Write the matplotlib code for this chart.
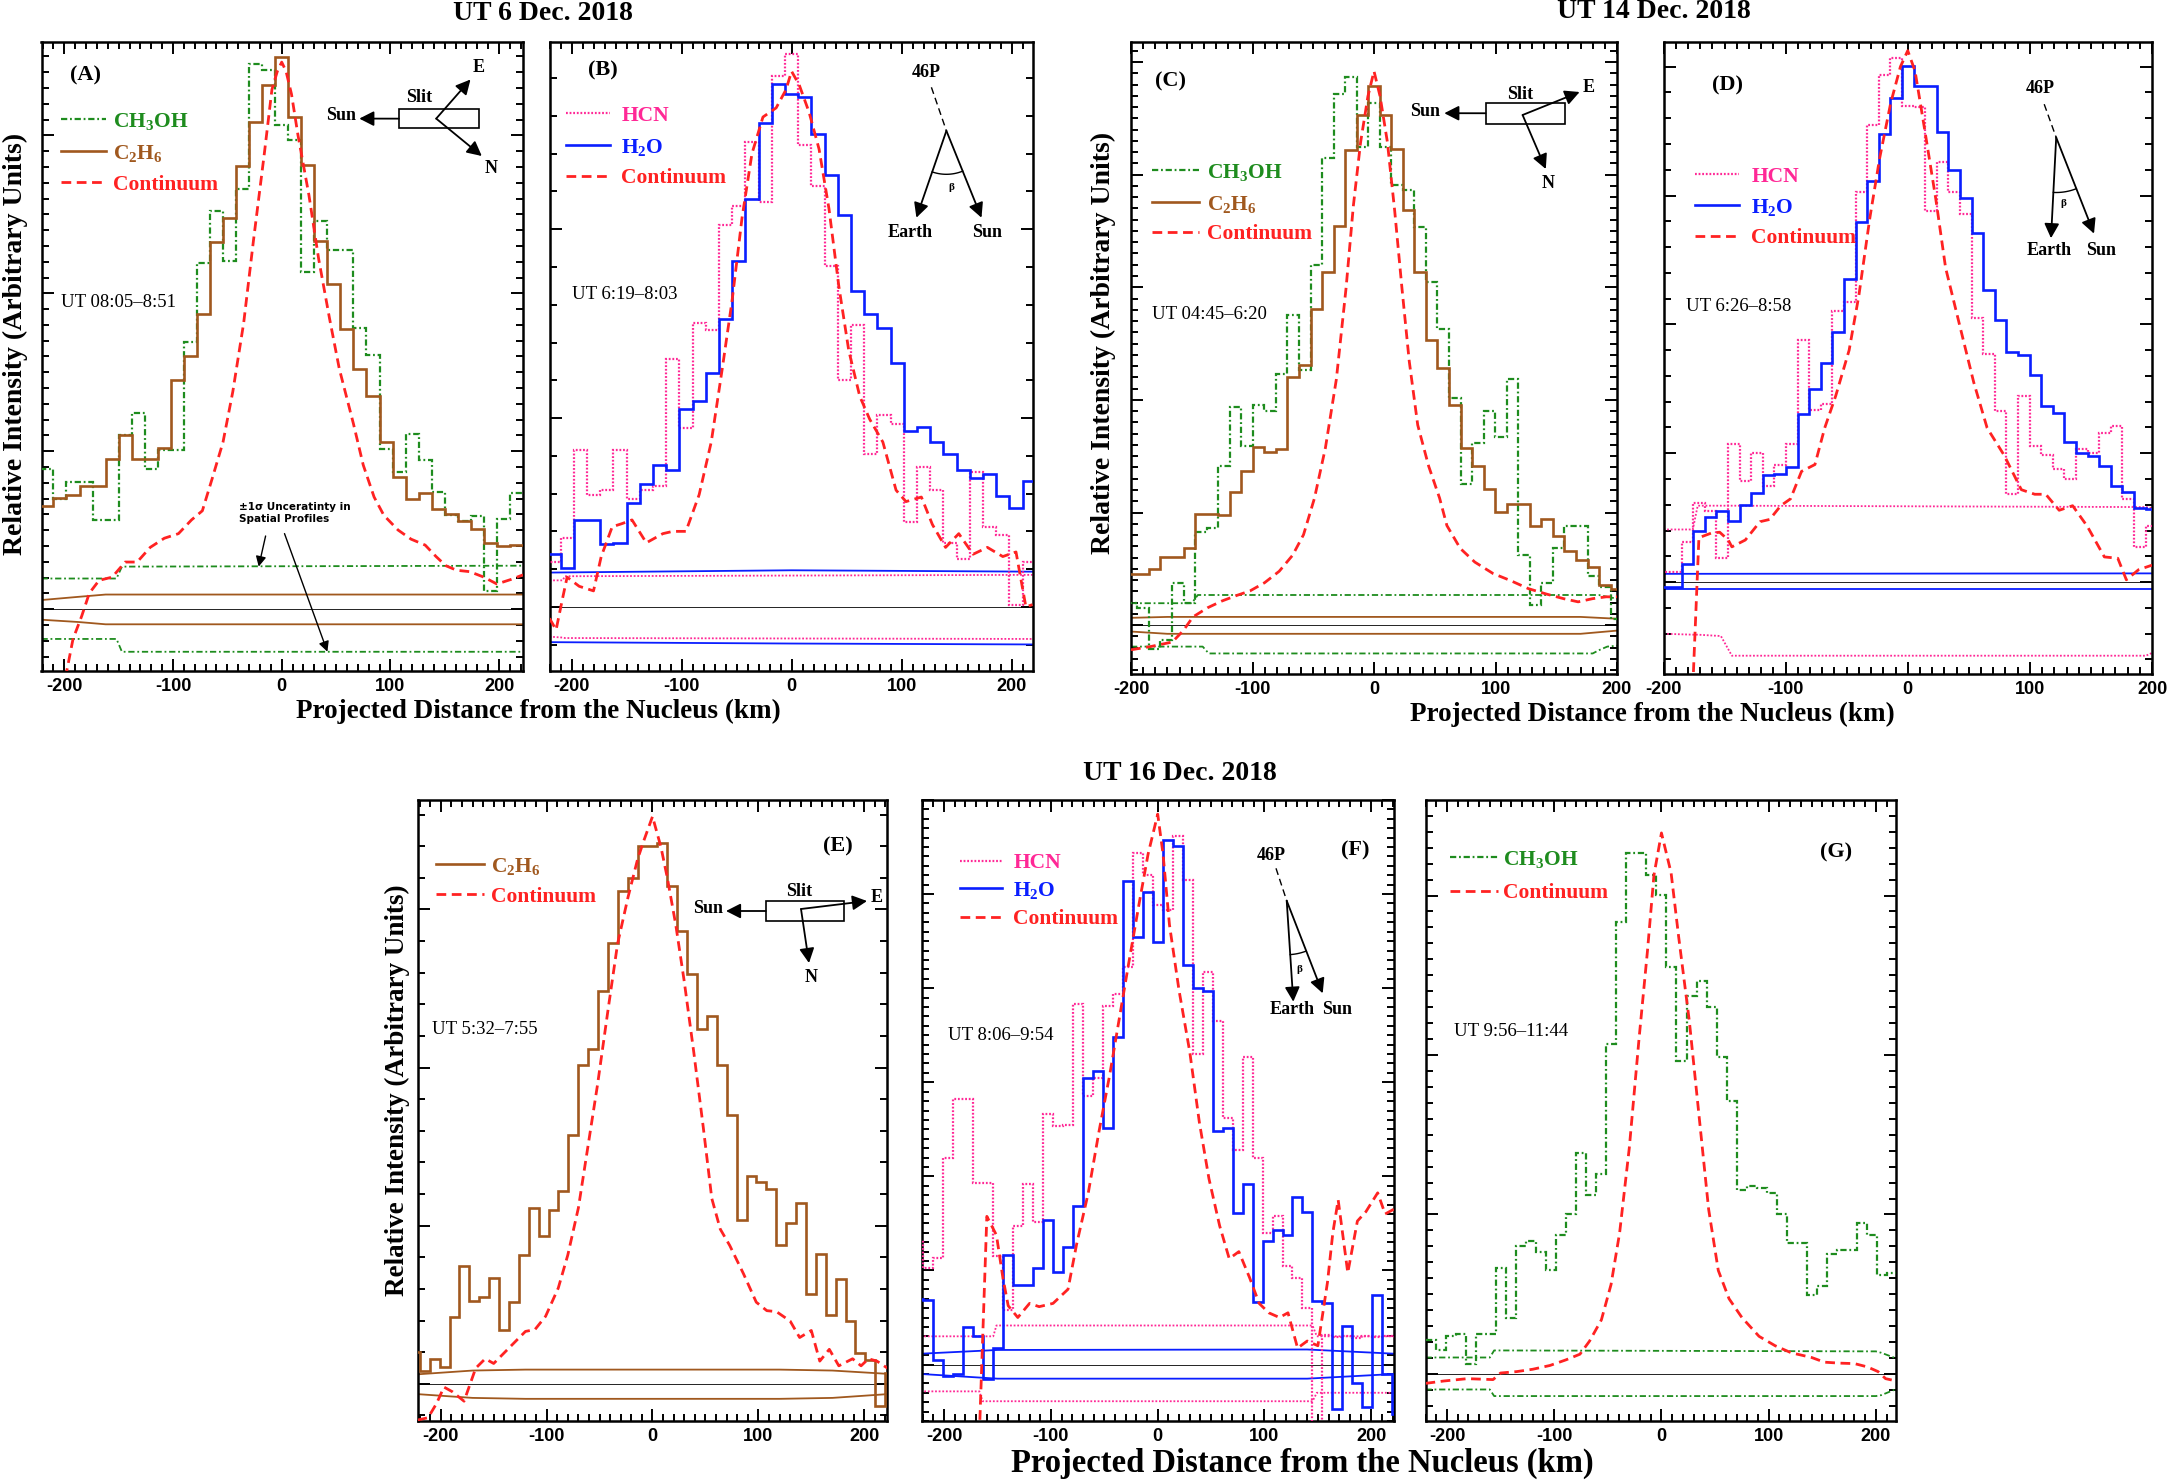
import numpy as np
import matplotlib
matplotlib.use("Agg")
import matplotlib.pyplot as plt
from matplotlib.patches import Rectangle
from matplotlib.ticker import MultipleLocator

plt.rcParams["font.family"] = ["Liberation Serif", "DejaVu Serif"]
plt.rcParams["axes.unicode_minus"] = False
plt.rcParams["mathtext.fontset"] = "custom"
plt.rcParams["mathtext.rm"] = "Liberation Serif:bold"
plt.rcParams["mathtext.bf"] = "Liberation Serif:bold"
plt.rcParams["mathtext.it"] = "Liberation Serif:bold:italic"
plt.rcParams["mathtext.default"] = "rm"
plt.rcParams["lines.scale_dashes"] = False

# ---- data ---------------------------------------------------------------
# spatial bin centres (km) for each night; intensities in arbitrary units
KM_DEC06 = np.arange(-18, 19) * 12.0
KM_DEC14 = np.arange(-21, 22) * 9.5
KM_DEC16 = np.arange(-24, 25) * 9.35
KM_DEC16_G = np.arange(-23, 24) * 9.35

# (A) UT 6 Dec
A_C2H6 = [2.25, 2.42, 2.50, 2.68, 2.68, 3.28, 3.80, 3.28, 3.28, 3.53, 5.00, 5.52, 6.45,
          8.03, 8.55, 9.68, 10.65, 11.45, 12.07, 10.75, 9.70, 8.05, 7.10, 6.13, 5.25,
          4.65, 3.65, 2.88, 2.40, 2.53, 2.18, 2.08, 1.92, 1.75, 1.45, 1.38, 1.40]
A_CH3OH = [3.07, 2.40, 2.77, 2.77, 1.95, 1.95, 3.80, 4.28, 3.07, 3.47, 3.47, 5.83, 7.57,
           8.70, 7.60, 9.17, 11.90, 11.77, 10.57, 10.25, 7.37, 8.48, 7.85, 7.85, 6.15,
           5.55, 3.50, 3.00, 3.83, 3.25, 2.55, 2.05, 1.92, 2.03, 0.40, 1.98, 2.53]
A_CONT_KM = [-199, -192, -184, -177, -168, -156, -144, -133, -121, -108, -95, -83, -73,
             -64, -54, -45, -35, -26, -16, -9, -4, 0, 4, 9, 15, 25, 34, 44, 53, 66, 75,
             85, 94, 107, 119, 132, 142, 151, 161, 173, 186, 198, 211, 222]
A_CONT = [-1.50, -0.65, -0.15, 0.35, 0.63, 0.70, 1.03, 1.03, 1.35, 1.55, 1.65, 1.95, 2.15,
          2.85, 3.65, 4.75, 6.25, 8.05, 9.95, 11.35, 11.75, 11.95, 11.75, 11.25, 10.35,
          9.05, 7.65, 6.35, 5.25, 4.05, 3.15, 2.45, 2.05, 1.73, 1.53, 1.40, 1.15, 0.95,
          0.85, 0.82, 0.70, 0.55, 0.65, 0.75]
A_CH3OH_SIG_KM = [-221, -152, -147, 222]
A_CH3OH_SIG_UP = [0.67, 0.67, 0.93, 0.95]
A_CH3OH_SIG_LO = [-0.65, -0.65, -0.93, -0.93]
A_C2H6_SIG_KM = [-221, -187, -162, 222]
A_C2H6_SIG_UP = [0.20, 0.27, 0.32, 0.32]
A_C2H6_SIG_LO = [-0.23, -0.28, -0.33, -0.33]

# (B) UT 6 Dec
B_H2O = [1.15, 0.85, 1.90, 1.90, 1.37, 1.40, 2.27, 2.68, 3.10, 3.00, 4.32, 4.50, 5.10,
         6.28, 7.55, 8.90, 10.58, 11.42, 11.20, 11.13, 10.32, 9.44, 8.57, 6.90, 6.40,
         6.09, 5.32, 3.84, 3.94, 3.60, 3.35, 3.00, 2.82, 2.90, 2.42, 2.15, 2.75]
B_HCN = [0.98, 1.50, 3.42, 2.45, 2.55, 3.42, 2.35, 2.55, 2.65, 5.42, 3.90, 6.20, 6.05,
         8.35, 8.75, 10.15, 8.85, 11.60, 12.08, 10.10, 9.20, 7.45, 4.95, 6.15, 3.35,
         4.20, 4.00, 1.85, 3.05, 2.55, 1.40, 1.05, 2.95, 1.75, 1.58, 0.05, 0.98]
B_CONT_KM = [-220, -214, -208, -204, -193, -180, -173, -163, -154, -145, -132, -117, -108,
             -96, -84, -73, -63, -54, -45, -36, -26, -14, -5, 0, 7, 16, 25, 34, 43, 52,
             62, 71, 83, 95, 104, 118, 128, 140, 152, 165, 178, 192, 204, 213, 219]
B_CONT = [-0.25, -0.50, 0.20, 0.65, 0.45, 0.35, 1.10, 1.75, 1.82, 1.90, 1.40, 1.60, 1.65,
          1.65, 2.45, 3.60, 5.20, 6.70, 8.50, 9.90, 10.70, 10.90, 11.30, 11.70, 11.40,
          10.80, 10.00, 8.70, 7.00, 5.60, 4.60, 4.10, 3.60, 2.55, 2.30, 2.40, 1.80, 1.30,
          1.60, 1.15, 1.30, 1.10, 1.20, 0.00, 0.05]
B_H2O_SIG_KM = [-220, 0, 219]
B_H2O_SIG_UP = [0.75, 0.80, 0.77]
B_H2O_SIG_LO = [-0.77, -0.80, -0.82]
B_HCN_SIG_KM = [-220, -208, -206, 219]
B_HCN_SIG_UP = [0.58, 0.58, 0.67, 0.70]
B_HCN_SIG_LO = [-0.65, -0.67, -0.68, -0.70]

# (C) UT 14 Dec
C_C2H6 = [1.13, 1.13, 1.23, 1.50, 1.50, 1.68, 2.43, 2.43, 2.41, 2.91, 3.38, 3.90, 3.80,
          3.86, 5.43, 5.70, 6.93, 7.73, 8.75, 10.41, 11.16, 11.80, 11.18, 10.43, 9.08,
          7.73, 6.25, 5.63, 4.83, 3.88, 3.48, 2.98, 2.48, 2.65, 2.65, 2.16, 2.33, 1.95,
          1.63, 1.43, 1.28, 0.88, 0.80]
C_CH3OH = [0.48, 0.38, -0.52, -0.32, 0.93, 0.48, 2.03, 2.13, 3.48, 4.78, 3.93, 4.83, 4.68,
           5.50, 6.80, 5.58, 7.88, 10.23, 11.63, 12.00, 10.48, 11.43, 10.48, 9.63, 9.53,
           8.71, 7.51, 6.48, 4.98, 3.10, 3.98, 4.68, 4.13, 5.40, 1.53, 0.43, 0.93, 1.70,
           2.18, 2.18, 1.08, 0.83, 0.13]
C_CONT_KM = [-200, -184, -166, -157, -149, -137, -125, -113, -102, -90, -78, -67, -58, -49,
             -40, -31, -23, -17, -11, -5, 0, 5, 11, 17, 23, 29, 36, 45, 54, 60, 71, 83, 98,
             112, 127, 142, 156, 168, 180, 191, 200]
C_CONT = [-0.54, -0.47, -0.37, -0.12, 0.18, 0.38, 0.53, 0.65, 0.75, 0.93, 1.18, 1.53, 1.98,
          2.78, 3.88, 5.38, 7.38, 9.18, 10.58, 11.58, 12.13, 11.58, 10.58, 9.08, 7.38,
          5.78, 4.38, 3.48, 2.78, 2.18, 1.68, 1.38, 1.13, 0.98, 0.80, 0.68, 0.58, 0.51,
          0.58, 0.62, 0.62]
C_CH3OH_SIG_KM = [-200, -150, -145, -141, -136, 180, 185, 192, 200]
C_CH3OH_SIG_UP = [0.48, 0.48, 0.66, 0.66, 0.66, 0.66, 0.66, 0.62, 0.58]
C_CH3OH_SIG_LO = [-0.47, -0.47, -0.47, -0.47, -0.62, -0.62, -0.55, -0.47, -0.45]
C_C2H6_SIG_KM = [-200, -170, 170, 200]
C_C2H6_SIG_UP = [0.16, 0.18, 0.18, 0.14]
C_C2H6_SIG_LO = [-0.14, -0.19, -0.19, -0.12]

# (D) UT 14 Dec
D_H2O = [-0.11, -0.11, 0.39, 1.12, 1.42, 1.55, 1.34, 1.69, 1.95, 2.35, 2.37, 2.52, 3.67,
         4.22, 4.79, 5.47, 6.62, 7.87, 8.77, 9.80, 10.59, 11.29, 10.85, 10.85, 9.85, 9.00,
         8.39, 7.64, 6.39, 5.72, 5.04, 4.97, 4.52, 3.84, 3.70, 3.07, 2.82, 2.75, 2.54,
         2.10, 1.97, 1.62, 1.60]
D_HCN = [0.22, 0.22, 0.87, 1.72, 1.55, 0.52, 3.02, 2.22, 2.82, 2.10, 2.55, 3.02, 5.29,
         3.77, 3.89, 5.92, 6.12, 8.54, 10.00, 11.09, 11.47, 10.42, 10.39, 8.12, 9.19, 8.54,
         8.05, 5.77, 4.99, 3.74, 1.92, 4.07, 2.97, 2.77, 2.47, 2.25, 2.92, 2.82, 3.27,
         3.42, 1.82, 0.77, 1.22]
D_CONT_KM = [-176, -173, -171, -161, -154, -147, -144, -133, -121, -113, -104, -96, -87,
             -76, -68, -59, -48, -40, -31, -23, -14, -6, 0, 6, 14, 23, 31, 42, 54, 65, 79,
             93, 104, 113, 124, 135, 147, 161, 172, 179, 189, 200]
D_CONT = [-2.30, -0.33, 0.97, 1.07, 1.09, 0.92, 0.77, 0.92, 1.32, 1.37, 1.67, 1.82, 2.42,
          2.57, 3.37, 4.07, 5.07, 6.27, 7.97, 9.27, 10.47, 11.27, 11.62, 11.17, 9.87,
          8.37, 6.87, 5.67, 4.37, 3.37, 2.77, 2.02, 1.92, 1.92, 1.57, 1.67, 1.22, 0.55,
          0.52, 0.05, 0.27, 0.37]
D_H2O_SIG_KM = [-200, 200]
D_H2O_SIG_UP = [0.18, 0.19]
D_H2O_SIG_LO = [-0.16, -0.16]
D_HCN_SIG_KM = [-200, -176, -172, -153, -144, 195, 200]
D_HCN_SIG_UP = [1.15, 1.15, 1.67, 1.67, 1.67, 1.64, 1.62]
D_HCN_SIG_LO = [-1.13, -1.15, -1.15, -1.18, -1.61, -1.61, -1.55]

# (E) UT 16 Dec
E_C2H6 = [0.68, 0.28, 0.53, 0.35, 1.41, 2.50, 1.75, 1.83, 2.25, 1.13, 1.73, 2.73, 3.73,
          3.13, 3.68, 4.08, 5.28, 6.76, 7.10, 8.33, 9.35, 10.45, 10.73, 11.40, 11.40,
          11.46, 10.56, 9.60, 8.70, 7.53, 7.80, 6.75, 5.71, 3.48, 4.40, 4.28, 4.13, 2.95,
          3.40, 3.83, 1.91, 2.75, 1.46, 2.23, 1.33, 0.66, 0.50, -0.47, 0.23]
E_CONT_KM = [-222, -212, -204, -197, -189, -178, -167, -158, -150, -139, -128, -120, -111,
             -101, -89, -80, -70, -61, -52, -42, -33, -23, -14, -8, 0, 8, 14, 22, 30, 39,
             48, 56, 64, 73, 86, 98, 108, 117, 130, 139, 150, 158, 167, 176, 189, 197,
             204, 212, 222]
E_CONT = [-0.77, -0.72, -0.42, -0.07, -0.17, -0.37, 0.33, 0.53, 0.43, 0.68, 0.93, 1.11,
          1.15, 1.43, 2.03, 2.73, 3.73, 5.03, 6.33, 7.93, 9.33, 10.33, 11.13, 11.53,
          12.03, 11.38, 10.73, 9.73, 8.53, 7.03, 5.43, 3.93, 3.28, 2.93, 2.33, 1.73, 1.55,
          1.53, 1.33, 0.98, 1.13, 0.48, 0.73, 0.38, 0.53, 0.38, 0.53, 0.48, 0.33]
E_C2H6_SIG_KM = [-222, -170, -120, 120, 170, 222]
E_C2H6_SIG_UP = [0.20, 0.28, 0.30, 0.30, 0.28, 0.21]
E_C2H6_SIG_LO = [-0.22, -0.30, -0.32, -0.32, -0.30, -0.22]

# (F) UT 16 Dec
F_H2O = [1.40, 1.37, 0.10, -0.25, -0.20, 0.80, 0.60, -0.30, 0.35, 2.32, 1.70, 1.70, 2.05,
         3.07, 1.97, 2.50, 3.37, 6.10, 6.23, 5.03, 6.97, 10.28, 9.08, 10.05, 8.99, 11.15,
         11.03, 8.50, 8.00, 7.93, 4.97, 5.03, 3.23, 3.83, 1.32, 2.62, 2.87, 2.75, 3.57,
         3.25, 1.35, 1.30, -0.95, 0.82, -0.40, -0.90, 1.47, -0.20, -1.05]
F_HCN = [2.65, 2.05, 2.27, 4.40, 5.65, 5.65, 3.85, 3.85, 2.30, 1.15, 2.95, 3.83, 3.03,
         5.33, 5.07, 5.09, 7.67, 5.70, 6.10, 7.63, 7.88, 8.45, 10.87, 10.40, 9.77, 9.66,
         11.24, 10.30, 6.60, 8.34, 7.31, 5.25, 4.57, 6.53, 4.39, 2.80, 3.15, 2.10, 1.85,
         1.20, -1.60, 0.62, 0.58, 0.60, 0.57, 0.61, 0.59, 0.60, 0.58]
F_CONT_KM = [-167, -160, -151, -145, -140, -131, -120, -111, -98, -84, -76, -65, -55, -45,
             -36, -27, -17, -9, 0, 5, 11, 20, 30, 39, 48, 58, 67, 76, 86, 95, 104, 114, 122,
             131, 140, 150, 159, 164, 169, 178, 187, 195, 206, 213, 221]
F_CONT = [-1.50, 3.15, 2.75, 1.85, 1.25, 1.00, 1.30, 1.23, 1.30, 1.60, 2.55, 3.65, 4.95,
          6.15, 7.35, 8.55, 9.85, 10.85, 11.70, 10.85, 9.35, 7.95, 6.65, 5.15, 3.95, 2.95,
          2.25, 2.40, 1.85, 1.30, 1.10, 1.00, 1.10, 0.35, 0.50, 0.40, 1.75, 2.80, 3.50,
          1.95, 3.05, 3.25, 3.65, 3.20, 3.30]
F_H2O_SIG_KM = [-222, -150, 140, 222]
F_H2O_SIG_UP = [0.23, 0.31, 0.32, 0.23]
F_H2O_SIG_LO = [-0.20, -0.30, -0.30, -0.20]
F_HCN_SIG_KM = [-222, -167, -164, -154, -151, 145, 149, 222]
F_HCN_SIG_UP = [0.60, 0.60, 0.60, 0.60, 0.83, 0.83, 0.60, 0.60]
F_HCN_SIG_LO = [-0.57, -0.57, -0.78, -0.78, -0.78, -0.78, -0.60, -0.60]

# (G) UT 16 Dec
G_CH3OH = [0.72, 0.50, 0.80, 0.85, 0.22, 0.85, 0.85, 2.25, 1.20, 2.73, 2.83, 2.60, 2.20,
           2.95, 3.40, 4.70, 3.80, 4.25, 7.02, 9.60, 11.08, 11.08, 10.60, 10.18, 8.65,
           6.65, 8.03, 8.35, 7.80, 6.73, 5.80, 3.90, 4.00, 3.95, 3.85, 3.40, 2.78, 2.78,
           1.68, 1.88, 2.55, 2.63, 2.63, 3.20, 2.95, 2.10, 2.15]
G_CONT_KM = [-220, -203, -181, -157, -150, -135, -120, -104, -89, -76, -67, -56, -47, -39,
             -30, -21, -13, -7, 0, 9, 16, 26, 35, 44, 53, 63, 75, 91, 106, 121, 140, 152,
             166, 180, 192, 202, 209, 219]
G_CONT = [-0.20, -0.15, -0.10, -0.12, 0.02, 0.05, 0.10, 0.18, 0.30, 0.42, 0.70, 1.15, 1.90,
          3.00, 4.80, 7.10, 9.00, 10.60, 11.50, 10.65, 9.30, 7.50, 5.50, 3.50, 2.20, 1.60,
          1.20, 0.80, 0.60, 0.45, 0.35, 0.25, 0.23, 0.22, 0.15, 0.05, -0.10, -0.15]
G_CH3OH_SIG_KM = [-220, -160, -156, 200, 205, 219]
G_CH3OH_SIG_UP = [0.35, 0.35, 0.50, 0.48, 0.45, 0.33]
G_CH3OH_SIG_LO = [-0.33, -0.33, -0.47, -0.47, -0.45, -0.32]

# ---- styles -------------------------------------------------------------
GREEN, BROWN, RED, PINK, BLUE = "#1e8c1e", "#a0581e", "#ff2222", "#ff2896", "#0a1eff"
STYLE = {
    "ch3oh": dict(color=GREEN, lw=1.6, ls=(0, (4.5, 2.0, 1.3, 2.0))),
    "c2h6": dict(color=BROWN, lw=1.9, ls="-"),
    "hcn": dict(color=PINK, lw=1.6, ls=(0, (1.3, 1.3))),
    "h2o": dict(color=BLUE, lw=1.9, ls="-"),
    "cont": dict(color=RED, lw=2.0, ls=(0, (7, 4))),
}
LABEL = {"ch3oh": "CH$_3$OH", "c2h6": "C$_2$H$_6$", "hcn": "HCN",
         "h2o": "H$_2$O", "cont": "Continuum"}

W, H = 2170, 1484
fig = plt.figure(figsize=(W / 100, H / 100), dpi=100)


def make_axes(box, xlim, ylim, ymajor, nminor):
    left, top, right, bottom = box
    ax = fig.add_axes([left / W, 1 - bottom / H, (right - left) / W, (bottom - top) / H])
    ax.set_xlim(*xlim)
    ax.set_ylim(*ylim)
    ax.set_xticks([-200, -100, 0, 100, 200], labels=["-200", "-100", "0", "100", "200"],
                  fontsize=13, fontweight="bold", fontfamily="Liberation Sans")
    ax.xaxis.set_minor_locator(MultipleLocator(10))
    ax.yaxis.set_major_locator(MultipleLocator(ymajor))
    ax.yaxis.set_minor_locator(MultipleLocator(ymajor / nminor))
    ax.tick_params(which="both", direction="in", top=True, right=True, width=1.4,
                   labelleft=False)
    ax.tick_params(which="major", length=8.5)
    ax.tick_params(which="minor", length=5)
    ax.tick_params(axis="x", pad=5)
    for s in ax.spines.values():
        s.set_linewidth(1.8)
    ax.axhline(0, color="k", lw=0.6, zorder=1)
    return ax


def hist(ax, centres, values, key, width):
    c = np.asarray(centres, dtype=float)
    edges = np.append(c - width / 2, c[-1] + width / 2)
    ax.stairs(values, edges, baseline=None, zorder=3, **STYLE[key])


def sigma(ax, km, up, lo, key):
    st = dict(STYLE[key])
    st["lw"] = 1.3
    ax.plot(km, up, zorder=2, **st)
    ax.plot(km, lo, zorder=2, **st)


def continuum(ax, km, vals):
    ax.plot(km, vals, zorder=4, **STYLE["cont"])


# (A)
ax = make_axes((41.5, 41.5, 523, 671), (-221, 222), (-1.35, 12.4), 3.45, 10)
sigma(ax, A_CH3OH_SIG_KM, A_CH3OH_SIG_UP, A_CH3OH_SIG_LO, "ch3oh")
sigma(ax, A_C2H6_SIG_KM, A_C2H6_SIG_UP, A_C2H6_SIG_LO, "c2h6")
hist(ax, KM_DEC06, A_CH3OH, "ch3oh", 12.0)
hist(ax, KM_DEC06, A_C2H6, "c2h6", 12.0)
continuum(ax, A_CONT_KM, A_CONT)

# (B)
ax = make_axes((549.5, 41.5, 1032.5, 671), (-220, 219), (-1.40, 12.35), 4.125, 5)
sigma(ax, B_HCN_SIG_KM, B_HCN_SIG_UP, B_HCN_SIG_LO, "hcn")
sigma(ax, B_H2O_SIG_KM, B_H2O_SIG_UP, B_H2O_SIG_LO, "h2o")
hist(ax, KM_DEC06, B_HCN, "hcn", 12.0)
hist(ax, KM_DEC06, B_H2O, "h2o", 12.0)
continuum(ax, B_CONT_KM, B_CONT)

# (C)
ax = make_axes((1131, 41.5, 1617, 674), (-200, 200), (-1.07, 12.78), 2.466, 10)
sigma(ax, C_CH3OH_SIG_KM, C_CH3OH_SIG_UP, C_CH3OH_SIG_LO, "ch3oh")
sigma(ax, C_C2H6_SIG_KM, C_C2H6_SIG_UP, C_C2H6_SIG_LO, "c2h6")
hist(ax, KM_DEC14, C_CH3OH, "ch3oh", 9.5)
hist(ax, KM_DEC14, C_C2H6, "c2h6", 9.5)
continuum(ax, C_CONT_KM, C_CONT)

# (D)
ax = make_axes((1663.5, 41.5, 2152, 674), (-200, 200), (-2.01, 11.82), 2.8175, 5)
sigma(ax, D_HCN_SIG_KM, D_HCN_SIG_UP, D_HCN_SIG_LO, "hcn")
sigma(ax, D_H2O_SIG_KM, D_H2O_SIG_UP, D_H2O_SIG_LO, "h2o")
hist(ax, KM_DEC14, D_HCN, "hcn", 9.5)
hist(ax, KM_DEC14, D_H2O, "h2o", 9.5)
continuum(ax, D_CONT_KM, D_CONT)

# (E)
ax = make_axes((418, 800, 887, 1421), (-221.5, 221.5), (-0.79, 12.38), 3.353, 5)
sigma(ax, E_C2H6_SIG_KM, E_C2H6_SIG_UP, E_C2H6_SIG_LO, "c2h6")
hist(ax, KM_DEC16, E_C2H6, "c2h6", 9.35)
continuum(ax, E_CONT_KM, E_CONT)

# (F)
ax = make_axes((921.7, 800, 1393.7, 1421), (-221, 221), (-1.20, 12.0), 2.0, 10)
sigma(ax, F_HCN_SIG_KM, F_HCN_SIG_UP, F_HCN_SIG_LO, "hcn")
sigma(ax, F_H2O_SIG_KM, F_H2O_SIG_UP, F_H2O_SIG_LO, "h2o")
hist(ax, KM_DEC16, F_HCN, "hcn", 9.35)
hist(ax, KM_DEC16, F_H2O, "h2o", 9.35)
continuum(ax, F_CONT_KM, F_CONT)

# (G)
ax = make_axes((1425.5, 800, 1896, 1421), (-220, 218.7), (-1.00, 12.2), 3.39, 10)
sigma(ax, G_CH3OH_SIG_KM, G_CH3OH_SIG_UP, G_CH3OH_SIG_LO, "ch3oh")
hist(ax, KM_DEC16_G, G_CH3OH, "ch3oh", 9.35)
continuum(ax, G_CONT_KM, G_CONT)

# ---- annotation layer in figure pixels ----------------------------------
ov = fig.add_axes([0, 0, 1, 1], zorder=10)
ov.set_xlim(0, W)
ov.set_ylim(H, 0)
ov.axis("off")
ov.patch.set_alpha(0)


def arrow(start, end, scale=16, lw=1.3):
    ov.annotate("", xy=end, xytext=start,
                arrowprops=dict(arrowstyle="-|>,head_length=0.55,head_width=0.28",
                                color="k", lw=lw, mutation_scale=scale,
                                shrinkA=0, shrinkB=0))


def legend(x0, x1, xt, rows):
    for key, y in rows:
        ov.plot([x0, x1], [y, y], **STYLE[key])
        ov.text(xt, y, LABEL[key], color=STYLE[key]["color"], fontsize=15.5,
                fontweight="bold", ha="left", va="center_baseline")


def slit(box, sun_end, sun_txt, vertex, e_end, e_txt, n_end, n_txt, slit_txt):
    x0, y0, x1, y1 = box
    ov.add_patch(Rectangle((x0, y0), x1 - x0, y1 - y0, fill=False, ec="k", lw=1.2))
    arrow((x0, (y0 + y1) / 2), sun_end)
    arrow(vertex, e_end)
    arrow(vertex, n_end)
    kw = dict(fontsize=13, fontweight="bold", ha="center", va="center")
    ov.text(*sun_txt, "Sun", **kw)
    ov.text(*e_txt, "E", **kw)
    ov.text(*n_txt, "N", **kw)
    ov.text(*slit_txt, "Slit", **kw)


def geometry(p46, dash0, vertex, earth, sun, r, beta, earth_txt, sun_txt):
    kw = dict(fontsize=13, fontweight="bold", ha="center", va="center")
    ov.text(*p46, "46P", **kw)
    ov.plot([dash0[0], vertex[0]], [dash0[1], vertex[1]], color="k", lw=1.0,
            ls=(0, (5, 3)))
    arrow(vertex, earth)
    arrow(vertex, sun)
    a1 = np.arctan2(earth[1] - vertex[1], earth[0] - vertex[0])
    a2 = np.arctan2(sun[1] - vertex[1], sun[0] - vertex[0])
    t = np.linspace(a1, a2, 30)
    ov.plot(vertex[0] + r * np.cos(t), vertex[1] + r * np.sin(t), color="k", lw=1.0)
    ov.text(*beta, "β", fontsize=8, fontweight="bold", ha="center", va="center")
    ov.text(*earth_txt, "Earth", **kw)
    ov.text(*sun_txt, "Sun", **kw)


# titles and axis labels
tkw = dict(fontweight="bold", ha="center", va="center")
ov.text(543, 14, "UT 6 Dec. 2018", fontsize=20, **tkw)
ov.text(1654, 12, "UT 14 Dec. 2018", fontsize=20, **tkw)
ov.text(1180, 774, "UT 16 Dec. 2018", fontsize=20, **tkw)
ov.text(538.5, 711.5, "Projected Distance from the Nucleus (km)", fontsize=19.5, **tkw)
ov.text(1652, 714, "Projected Distance from the Nucleus (km)", fontsize=19.5, **tkw)
ov.text(1302, 1463, "Projected Distance from the Nucleus (km)", fontsize=23.5, **tkw)
ov.text(15, 344, "Relative Intensity (Arbitrary Units)", fontsize=20, rotation=90, **tkw)
ov.text(1103, 343, "Relative Intensity (Arbitrary Units)", fontsize=20, rotation=90, **tkw)
ov.text(397, 1090, "Relative Intensity (Arbitrary Units)", fontsize=19.5, rotation=90,
        **tkw)

# panel letters
for txt, x, y in [("(A)", 85.4, 75.8), ("(B)", 602.9, 70.3), ("(C)", 1170.2, 81.7),
                  ("(D)", 1727.9, 85.0), ("(E)", 837.5, 846.2), ("(F)", 1355.0, 850.0),
                  ("(G)", 1836.4, 852.7)]:
    ov.text(x, y, txt, fontsize=16, **tkw)

# observing windows
for txt, x, y in [("UT 08:05–8:51", 61.4, 302.4), ("UT 6:19–8:03", 572.2, 294.2),
                  ("UT 04:45–6:20", 1152.4, 314.6), ("UT 6:26–8:58", 1685.9, 306.8),
                  ("UT 5:32–7:55", 431.9, 1030.0), ("UT 8:06–9:54", 948.5, 1035.0),
                  ("UT 9:56–11:44", 1453.7, 1031.9)]:
    ov.text(x, y, txt, fontsize=13.5, ha="left", va="center")

# legends
legend(60.5, 105.5, 113, [("ch3oh", 118.5), ("c2h6", 151), ("cont", 182)])
legend(565.5, 609.5, 621.2, [("hcn", 113.4), ("h2o", 145.4), ("cont", 175.6)])
legend(1152.4, 1199, 1206.8, [("ch3oh", 170.3), ("c2h6", 202.3), ("cont", 231.9)])
legend(1695.2, 1739.3, 1751.3, [("hcn", 174.1), ("h2o", 205.2), ("cont", 235.9)])
legend(436.2, 484.1, 490.7, [("c2h6", 863.7), ("cont", 894.3)])
legend(960, 1001.5, 1013.2, [("hcn", 860.5), ("h2o", 888), ("cont", 916.5)])
legend(1450.3, 1498.4, 1503, [("ch3oh", 857.4), ("cont", 890.8)])

# slit orientation sketches
slit((398.8, 108.8, 479.4, 128.5), (359.3, 118.6), (341, 116), (436.2, 118.6),
     (470.5, 79.5), (478.4, 67.6), (481.8, 156), (491.1, 168.3), (419, 97.8))
slit((1485.5, 102.5, 1565, 124), (1444.3, 113.2), (1425.5, 111.5), (1522.6, 115),
     (1579.6, 92), (1589, 87), (1545.8, 169), (1548.5, 183), (1520, 94.5))
slit((765.8, 901, 843.5, 921), (726, 911), (708.5, 908.5), (801, 909),
     (867, 901), (877, 898), (809, 963), (811.5, 977), (799.5, 892))

# phase-angle sketches
geometry((926.4, 72.5), (931.4, 87.3), (946.4, 130.8), (916.4, 217.7), (981.5, 217.7),
         43.5, (951.4, 188), (910.7, 232.4), (987.1, 232.4))
geometry((2040, 88.5), (2044.2, 104.2), (2056.2, 137.5), (2051, 238.2), (2094, 233.6),
         55, (2063.8, 203.9), (2049, 250.5), (2101.5, 250.5))
geometry((1271.7, 855), (1276, 868.3), (1286.7, 900.7), (1293.3, 1001.7),
         (1322.7, 993.3), 54, (1299, 970), (1292.7, 1010), (1337.3, 1010))

# uncertainty note in (A)
ov.text(238.8, 502.5, "±1σ Unceratinty in\nSpatial Profiles", fontsize=7.5,
        fontweight="bold", fontfamily="DejaVu Sans", ha="left", va="top",
        linespacing=1.25)
arrow((265.6, 536), (258.7, 566.6), scale=11, lw=1.0)
arrow((284.5, 533.6), (327.4, 651.7), scale=11, lw=1.0)

fig.savefig("out.png", dpi=100)
